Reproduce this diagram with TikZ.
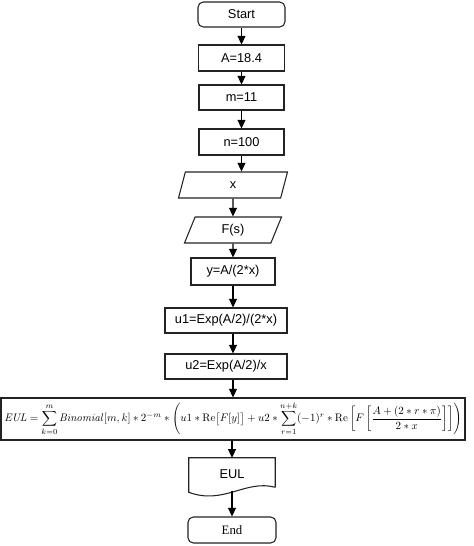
\documentclass[tikz,border=0pt]{standalone}
\usepackage{amsmath,amssymb}
\usepackage{graphicx}
\usepackage[no-math]{fontspec}
\setmainfont{Liberation Sans}
\newfontfamily\serifText{Liberation Serif}
\usepackage{tikz}
\usetikzlibrary{shapes.geometric,arrows.meta}
\definecolor{boxLine}{RGB}{35,35,35}

\begin{document}
\begin{tikzpicture}[x=0.75pt,y=-0.75pt,
  procBox/.style={draw=boxLine,line width=0.8pt,inner sep=1pt,font=\fontsize{9.6}{11}\selectfont},
  termBox/.style={procBox,rounded corners=4pt},
  ioBox/.style={procBox,trapezium,trapezium left angle=54,trapezium right angle=126,trapezium stretches body},
  flowArrow/.style={line width=0.8pt,-{Triangle[length=6.5pt,width=6pt]}}]
\useasboundingbox (0,0) rectangle (474,546);
\node[termBox,minimum width=65.25pt,minimum height=18.75pt] (start) at (241.5,14.5) {Start};
\node[procBox,minimum width=64.5pt,minimum height=19.5pt] (a) at (241.5,58) {A=18.4};
\node[procBox,minimum width=63.75pt,minimum height=18.75pt] (m) at (241.5,97.5) {m=11};
\node[procBox,minimum width=63.75pt,minimum height=19.5pt] (n) at (241.5,142) {n=100};
\node[ioBox,minimum width=81.75pt,minimum height=19.5pt] (x) at (233,185) {x};
\node[ioBox,minimum width=72.75pt,minimum height=19.5pt] (fs) at (233,230) {F(s)};
\node[procBox,minimum width=63pt,minimum height=20.25pt] (y) at (233,271.5) {y=A/(2*x)};
\node[procBox,minimum width=91.5pt,minimum height=18.75pt] (u1) at (226,320.5) {u1=Exp(A/2)/(2*x)};
\node[procBox,minimum width=91.5pt,minimum height=18.75pt] (u2) at (226,366.5) {u2=Exp(A/2)/x};
\node[procBox,minimum width=348pt,minimum height=31.5pt] (eul) at (233,419) {\resizebox{343pt}{!}{$\displaystyle \mathit{EUL}=\sum_{k=0}^{m}\mathit{Binomial}[m,k]*2^{-m}*\left(u1*\mathrm{Re}\bigl[F[y]\bigr]+u2*\sum_{r=1}^{n+k}(-1)^{r}*\mathrm{Re}\left[F\left[\frac{A+(2*r*\pi)}{2*x}\right]\right]\right)$}};
\node[inner sep=1pt,minimum width=64.5pt,minimum height=24.75pt,font=\fontsize{9.6}{11}\selectfont] (doc) at (232,474.5) {EUL};
\draw[boxLine,line width=0.8pt] ([yshift=3pt]doc.south east) -- (doc.north east) -- (doc.north west) -- ([yshift=-0.75pt]doc.south west) .. controls +(35,13) and +(-30,-8) .. ([yshift=3pt]doc.south east);
\node[termBox,minimum width=66pt,minimum height=19.5pt,font=\serifText\fontsize{9.6}{11}\selectfont] (end) at (232,530) {End};
\draw[flowArrow] (start) -- (a);
\draw[flowArrow] (a) -- (m);
\draw[flowArrow] (m) -- (n);
\draw[flowArrow] (n.south) -- (n.south |- x.north);
\draw[flowArrow] (x) -- (fs);
\draw[flowArrow] (fs) -- (y);
\draw[flowArrow] (y.south) -- (y.south |- u1.north);
\draw[flowArrow] (y.south |- u1.south) -- (y.south |- u2.north);
\draw[flowArrow] (y.south |- u2.south) -- (y.south |- eul.north);
\draw[flowArrow] (doc.north |- eul.south) -- (doc.north);
\draw[flowArrow] (doc.south) -- (end);
\end{tikzpicture}
\end{document}
